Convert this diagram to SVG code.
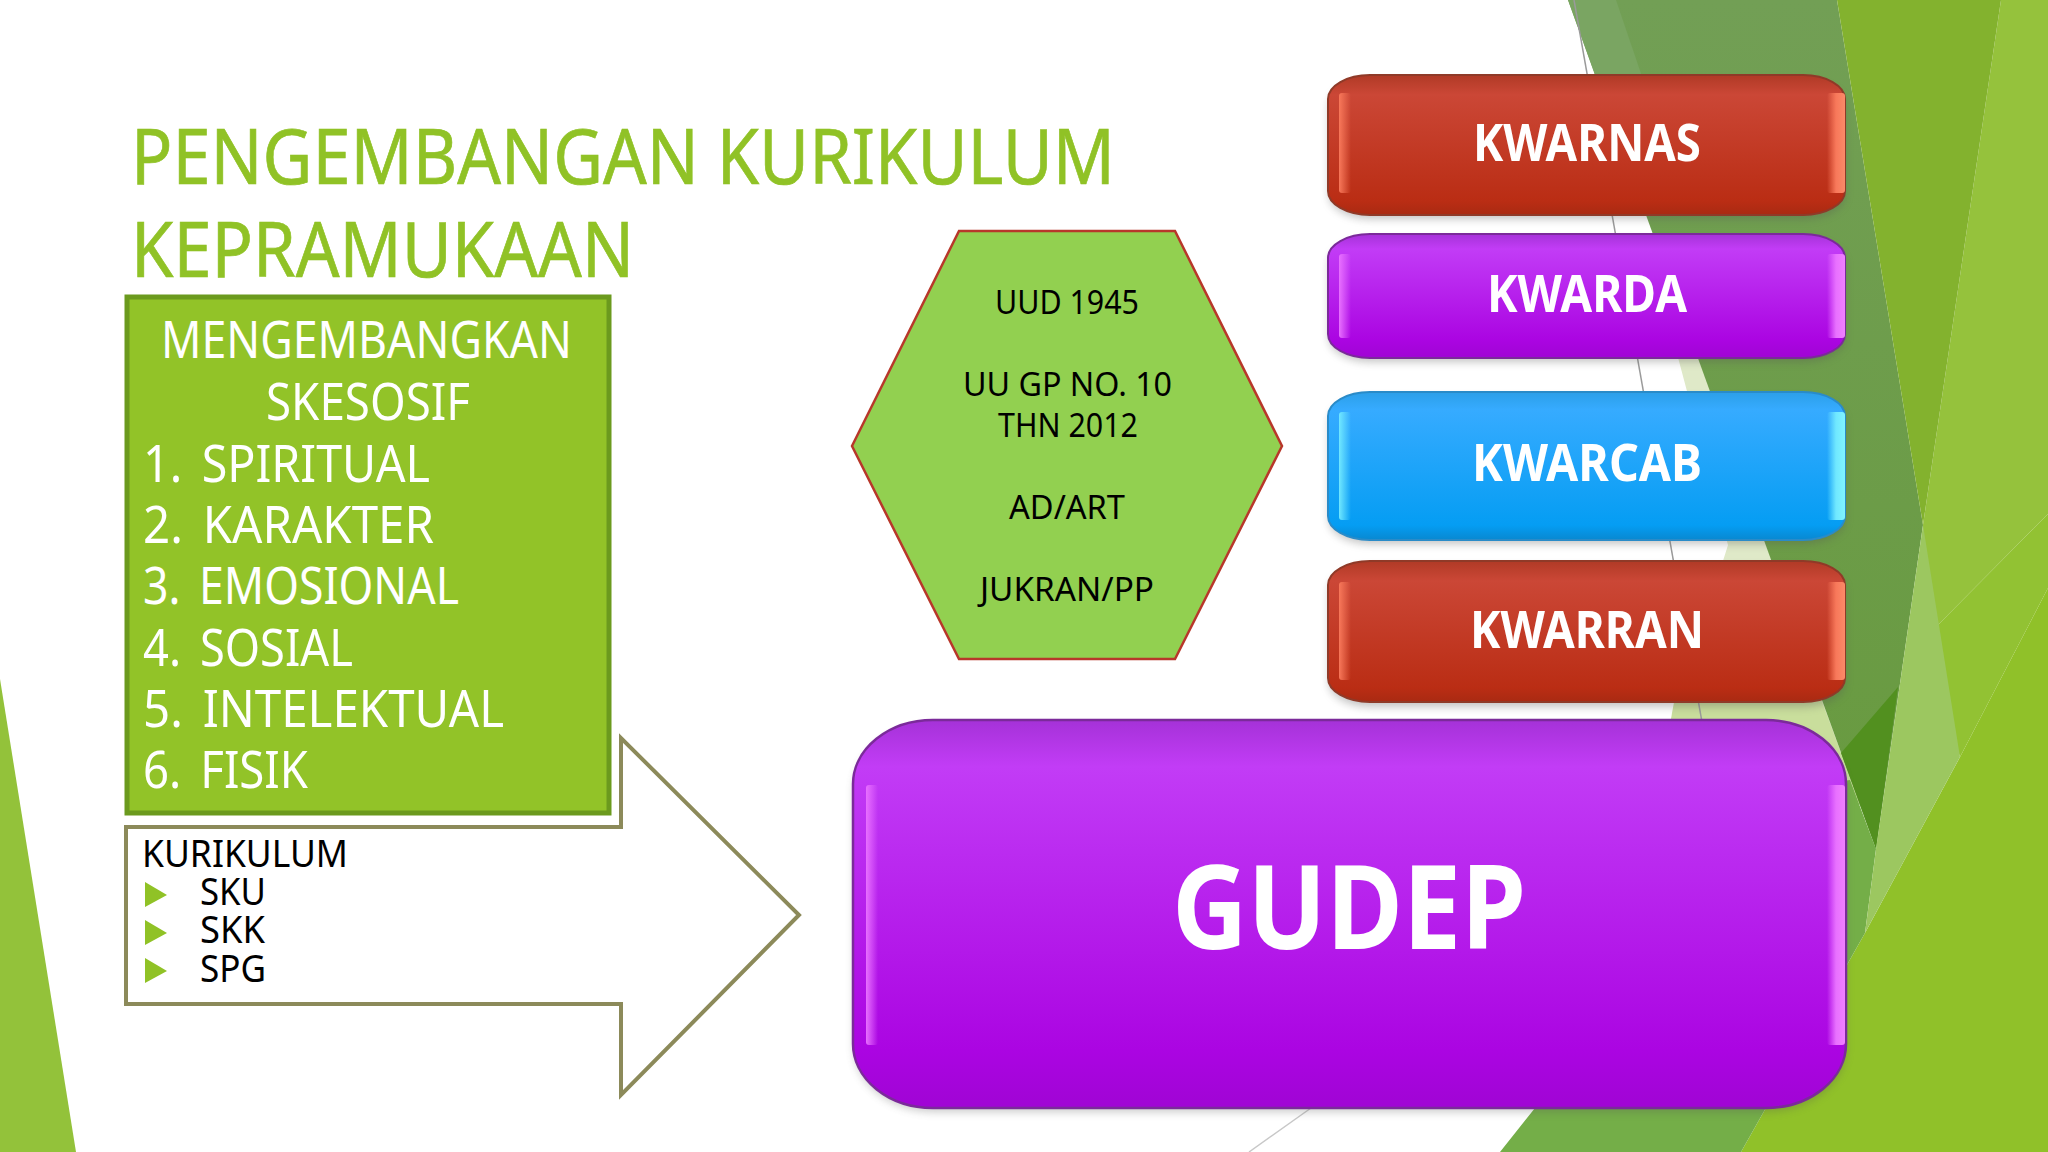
<svg xmlns="http://www.w3.org/2000/svg" width="2048" height="1152" viewBox="0 0 2048 1152">
<defs>
<style>
text{font-family:"Noto Sans","Open Sans","DejaVu Sans",sans-serif}
.t{fill:#90c226;font-size:77px;stroke:#90c226;stroke-width:.7px}
.w{fill:#fff;font-size:51px;word-spacing:8px}
.h{fill:#000;font-size:33px}
.k{fill:#000;font-size:38px}
.b{fill:#fff;font-size:52px;font-weight:700}
.bul{fill:#90c226}
</style>
<linearGradient id="red" x1="0" y1="0" x2="0" y2="1"><stop offset="0" stop-color="#b03a26"/><stop offset=".14" stop-color="#cb4736"/><stop offset=".9" stop-color="#ba2d14"/><stop offset="1" stop-color="#a92a12"/></linearGradient>
<linearGradient id="pur" x1="0" y1="0" x2="0" y2="1"><stop offset="0" stop-color="#a532d8"/><stop offset=".12" stop-color="#c23cf6"/><stop offset=".85" stop-color="#ab05e2"/><stop offset="1" stop-color="#a005d4"/></linearGradient>
<linearGradient id="blu" x1="0" y1="0" x2="0" y2="1"><stop offset="0" stop-color="#2c9fe8"/><stop offset=".12" stop-color="#36abff"/><stop offset=".9" stop-color="#059df3"/><stop offset="1" stop-color="#0888d0"/></linearGradient>
<linearGradient id="rr"><stop offset="0" stop-color="#f8785a" stop-opacity="0"/><stop offset=".5" stop-color="#f8785a"/><stop offset="1" stop-color="#fb8a68"/></linearGradient>
<linearGradient id="rl" x1="1" x2="0"><stop offset="0" stop-color="#f8785a" stop-opacity="0"/><stop offset="1" stop-color="#f8785a"/></linearGradient>
<linearGradient id="pr"><stop offset="0" stop-color="#e870ff" stop-opacity="0"/><stop offset=".5" stop-color="#e870ff"/><stop offset="1" stop-color="#f080ff"/></linearGradient>
<linearGradient id="pl" x1="1" x2="0"><stop offset="0" stop-color="#e870ff" stop-opacity="0"/><stop offset="1" stop-color="#e870ff"/></linearGradient>
<linearGradient id="br"><stop offset="0" stop-color="#70e8ff" stop-opacity="0"/><stop offset=".5" stop-color="#70e8ff"/><stop offset="1" stop-color="#80f4ff"/></linearGradient>
<linearGradient id="bl" x1="1" x2="0"><stop offset="0" stop-color="#70e8ff" stop-opacity="0"/><stop offset="1" stop-color="#70e8ff"/></linearGradient>
<linearGradient id="dk" x1="0" y1="0" x2="0" y2="1"><stop offset="0" stop-color="#729f55"/><stop offset="1" stop-color="#689a3f"/></linearGradient>
<filter id="sh" x="-5%" y="-10%" width="110%" height="125%"><feGaussianBlur stdDeviation="4"/></filter>
</defs>
<rect width="2048" height="1152" fill="#fff"/>
<g id="background">
<polygon points="0,679 76,1152 0,1152" fill="#93c23a"/>
<polygon points="1676,350 1696,350 1860,805 1668,735 1728,545" fill="#dfe9c8"/>
<polygon points="1700,560 1770,560 1860,805 1668,735" fill="#c9de9c"/>
<polygon points="2001,0 2048,0 2048,514 1923,640 1923,525" fill="#95c23c"/>
<polygon points="1923,640 2048,514 2048,588 1960,757" fill="#92c233"/>
<polygon points="1741,1152 1865,933 1960,757 2048,588 2048,1152" fill="#90c129"/>
<polygon points="1568,0 1837,0 1923,525 1876,849" fill="url(#dk)"/>
<polygon points="1568,0 1616,0 1650,100 1604,100" fill="#7aa562"/>
<polygon points="1841,753 1898,687 1876,849" fill="#52901f"/>
<polygon points="1837,0 2001,0 1923,525" fill="#83b22e"/>
<polygon points="1500,1152 1535,1108 1700,800 1850,780 1876,849 1865,933 1741,1152" fill="#74ae48"/>
<polygon points="1865,933 1876,849 1923,525 1960,757" fill="#9cc760"/>
<line x1="1574" y1="0" x2="1730" y2="880" stroke="#9a9a9a" stroke-width="1.5"/>
<line x1="1311" y1="1108" x2="1249" y2="1152" stroke="#c8c8c8" stroke-width="1.5"/>
</g>
<g id="title">
<text class="t" x="131" y="184" textLength="984" lengthAdjust="spacingAndGlyphs">PENGEMBANGAN KURIKULUM</text>
<text class="t" x="131" y="277" textLength="503" lengthAdjust="spacingAndGlyphs">KEPRAMUKAAN</text>
</g>
<g id="skesosif">
<rect x="127" y="297" width="482" height="516" fill="#92c328" stroke="#6b9a1e" stroke-width="5"/>
<text class="w" x="161" y="358" textLength="411" lengthAdjust="spacingAndGlyphs">MENGEMBANGKAN</text>
<text class="w" x="266" y="420" textLength="204" lengthAdjust="spacingAndGlyphs">SKESOSIF</text>
<text class="w" x="143" y="482" textLength="287" lengthAdjust="spacingAndGlyphs">1. SPIRITUAL</text>
<text class="w" x="143" y="543" textLength="291" lengthAdjust="spacingAndGlyphs">2. KARAKTER</text>
<text class="w" x="143" y="604" textLength="316" lengthAdjust="spacingAndGlyphs">3. EMOSIONAL</text>
<text class="w" x="143" y="666" textLength="210" lengthAdjust="spacingAndGlyphs">4. SOSIAL</text>
<text class="w" x="143" y="727" textLength="361" lengthAdjust="spacingAndGlyphs">5. INTELEKTUAL</text>
<text class="w" x="143" y="788" textLength="165" lengthAdjust="spacingAndGlyphs">6. FISIK</text>
</g>
<g id="kurikulum">
<polygon points="126,827 621,827 621,738 799,915 621,1095 621,1004 126,1004" fill="#fff" stroke="#8c8a5a" stroke-width="4"/>
<text class="k" x="142" y="867" textLength="206" lengthAdjust="spacingAndGlyphs">KURIKULUM</text>
<polygon class="bul" points="145,882 167,895 145,907"/>
<text class="k" x="200" y="905" textLength="66" lengthAdjust="spacingAndGlyphs">SKU</text>
<polygon class="bul" points="145,920 167,933 145,945"/>
<text class="k" x="200" y="943" textLength="65" lengthAdjust="spacingAndGlyphs">SKK</text>
<polygon class="bul" points="145,958 167,971 145,983"/>
<text class="k" x="200" y="982" textLength="66" lengthAdjust="spacingAndGlyphs">SPG</text>
</g>
<g id="dasar">
<polygon points="852,446 959,231 1175,231 1282,446 1175,659 959,659" fill="#92d050" stroke="#b8372a" stroke-width="2.5"/>
<text class="h" x="995" y="314" textLength="144" lengthAdjust="spacingAndGlyphs">UUD 1945</text>
<text class="h" x="963" y="396" textLength="209" lengthAdjust="spacingAndGlyphs">UU GP NO. 10</text>
<text class="h" x="998" y="437" textLength="140" lengthAdjust="spacingAndGlyphs">THN 2012</text>
<text class="h" x="1009" y="519" textLength="116" lengthAdjust="spacingAndGlyphs">AD/ART</text>
<text class="h" x="980" y="601" textLength="174" lengthAdjust="spacingAndGlyphs">JUKRAN/PP</text>
</g>
<g id="kwarnas">
<rect x="1329" y="82" width="516" height="137" rx="42" ry="24" fill="#555" opacity=".35" filter="url(#sh)"/>
<rect x="1328" y="75" width="517" height="140" rx="42" ry="24" fill="url(#red)" stroke="#8f3a28" stroke-width="2"/>
<rect x="1339" y="93" width="12" height="100" rx="3" fill="url(#rl)"/><rect x="1827" y="93" width="18" height="100" rx="3" fill="url(#rr)"/>
<text class="b" x="1473" y="161" textLength="228" lengthAdjust="spacingAndGlyphs">KWARNAS</text>
</g>
<g id="kwarda">
<rect x="1329" y="240" width="516" height="122" rx="42" ry="24" fill="#555" opacity=".35" filter="url(#sh)"/>
<rect x="1328" y="234" width="517" height="124" rx="42" ry="24" fill="url(#pur)" stroke="#7b2a9a" stroke-width="2"/>
<rect x="1339" y="254" width="12" height="84" rx="3" fill="url(#pl)"/><rect x="1827" y="254" width="18" height="84" rx="3" fill="url(#pr)"/>
<text class="b" x="1487" y="312" textLength="200" lengthAdjust="spacingAndGlyphs">KWARDA</text>
</g>
<g id="kwarcab">
<rect x="1329" y="398" width="516" height="146" rx="42" ry="24" fill="#555" opacity=".35" filter="url(#sh)"/>
<rect x="1328" y="392" width="517" height="148" rx="42" ry="24" fill="url(#blu)" stroke="#2a8bc8" stroke-width="2"/>
<rect x="1339" y="412" width="12" height="108" rx="3" fill="url(#bl)"/><rect x="1827" y="412" width="18" height="108" rx="3" fill="url(#br)"/>
<text class="b" x="1472" y="481" textLength="230" lengthAdjust="spacingAndGlyphs">KWARCAB</text>
</g>
<g id="kwarran">
<rect x="1329" y="567" width="516" height="140" rx="42" ry="24" fill="#555" opacity=".35" filter="url(#sh)"/>
<rect x="1328" y="561" width="517" height="141" rx="42" ry="24" fill="url(#red)" stroke="#8f3a28" stroke-width="2"/>
<rect x="1339" y="582" width="12" height="98" rx="3" fill="url(#rl)"/><rect x="1827" y="582" width="18" height="98" rx="3" fill="url(#rr)"/>
<text class="b" x="1470" y="648" textLength="234" lengthAdjust="spacingAndGlyphs">KWARRAN</text>
</g>
<g id="gudep">
<rect x="854" y="726" width="992" height="386" rx="80" ry="64" fill="#555" opacity=".3" filter="url(#sh)"/>
<rect x="853" y="720" width="993" height="388" rx="80" ry="64" fill="url(#pur)" stroke="#7b2a9a" stroke-width="2.5"/>
<rect x="866" y="785" width="12" height="260" rx="3" fill="url(#pl)"/><rect x="1827" y="785" width="18" height="260" rx="3" fill="url(#pr)"/>
<text class="b" style="font-size:116px" x="1172" y="949" textLength="354" lengthAdjust="spacingAndGlyphs">GUDEP</text>
</g>
<g id="connectors"/>
</svg>
